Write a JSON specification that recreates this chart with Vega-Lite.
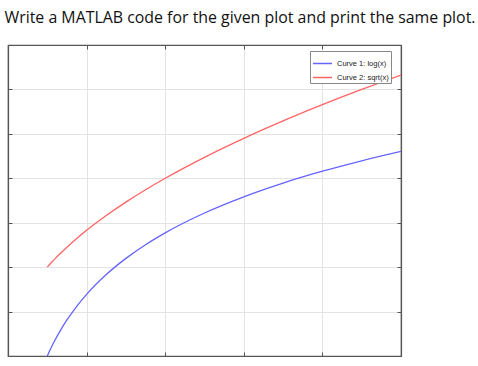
{
  "$schema": "https://vega.github.io/schema/vega-lite/v6.json",
  "autosize": "none",
  "width": 393,
  "height": 311,
  "padding": {"left": 8, "top": 45, "right": 77, "bottom": 10},
  "background": "white",
  "title": {
    "text": "Write a MATLAB code for the given plot and print the same plot.",
    "anchor": "start",
    "font": "Open Sans",
    "fontSize": 15.9,
    "fontWeight": "normal",
    "color": "#111111",
    "dx": -3,
    "offset": 19
  },
  "config": {
    "view": {"stroke": "#555555", "strokeWidth": 1.2},
    "axis": {
      "labels": false,
      "title": null,
      "domainColor": "#555555",
      "domainWidth": 1.2,
      "tickColor": "#555555",
      "tickSize": -4,
      "tickWidth": 1,
      "gridColor": "#e3e3e3",
      "gridWidth": 1
    }
  },
  "data": {
    "values": [
      {"x": 1, "y": 0, "curve": "Curve 1: log(x)"},
      {"x": 1.1, "y": 0.0953, "curve": "Curve 1: log(x)"},
      {"x": 1.2, "y": 0.1823, "curve": "Curve 1: log(x)"},
      {"x": 1.35, "y": 0.3001, "curve": "Curve 1: log(x)"},
      {"x": 1.5, "y": 0.4055, "curve": "Curve 1: log(x)"},
      {"x": 1.75, "y": 0.5596, "curve": "Curve 1: log(x)"},
      {"x": 2, "y": 0.6931, "curve": "Curve 1: log(x)"},
      {"x": 2.5, "y": 0.9163, "curve": "Curve 1: log(x)"},
      {"x": 3, "y": 1.0986, "curve": "Curve 1: log(x)"},
      {"x": 3.5, "y": 1.2528, "curve": "Curve 1: log(x)"},
      {"x": 4, "y": 1.3863, "curve": "Curve 1: log(x)"},
      {"x": 5, "y": 1.6094, "curve": "Curve 1: log(x)"},
      {"x": 6, "y": 1.7918, "curve": "Curve 1: log(x)"},
      {"x": 7, "y": 1.9459, "curve": "Curve 1: log(x)"},
      {"x": 8, "y": 2.0794, "curve": "Curve 1: log(x)"},
      {"x": 9, "y": 2.1972, "curve": "Curve 1: log(x)"},
      {"x": 10, "y": 2.3026, "curve": "Curve 1: log(x)"},
      {"x": 1, "y": 1, "curve": "Curve 2: sqrt(x)"},
      {"x": 1.1, "y": 1.0488, "curve": "Curve 2: sqrt(x)"},
      {"x": 1.2, "y": 1.0954, "curve": "Curve 2: sqrt(x)"},
      {"x": 1.35, "y": 1.1619, "curve": "Curve 2: sqrt(x)"},
      {"x": 1.5, "y": 1.2247, "curve": "Curve 2: sqrt(x)"},
      {"x": 1.75, "y": 1.3229, "curve": "Curve 2: sqrt(x)"},
      {"x": 2, "y": 1.4142, "curve": "Curve 2: sqrt(x)"},
      {"x": 2.5, "y": 1.5811, "curve": "Curve 2: sqrt(x)"},
      {"x": 3, "y": 1.7321, "curve": "Curve 2: sqrt(x)"},
      {"x": 3.5, "y": 1.8708, "curve": "Curve 2: sqrt(x)"},
      {"x": 4, "y": 2, "curve": "Curve 2: sqrt(x)"},
      {"x": 5, "y": 2.2361, "curve": "Curve 2: sqrt(x)"},
      {"x": 6, "y": 2.4495, "curve": "Curve 2: sqrt(x)"},
      {"x": 7, "y": 2.6458, "curve": "Curve 2: sqrt(x)"},
      {"x": 8, "y": 2.8284, "curve": "Curve 2: sqrt(x)"},
      {"x": 9, "y": 3, "curve": "Curve 2: sqrt(x)"},
      {"x": 10, "y": 3.1623, "curve": "Curve 2: sqrt(x)"}
    ]
  },
  "layer": [
    {
      "mark": {"type": "line", "strokeWidth": 1.3, "clip": true, "interpolate": "monotone"},
      "encoding": {
        "x": {"field": "x", "type": "quantitative", "scale": {"domain": [0, 10], "nice": false, "zero": false},
              "axis": {"orient": "bottom", "values": [0, 2, 4, 6, 8, 10], "grid": true}},
        "y": {"field": "y", "type": "quantitative", "scale": {"domain": [0, 3.5], "nice": false, "zero": false},
              "axis": {"orient": "left", "values": [0, 0.5, 1, 1.5, 2, 2.5, 3, 3.5], "grid": true}},
        "color": {
          "field": "curve", "type": "nominal",
          "scale": {"domain": ["Curve 1: log(x)", "Curve 2: sqrt(x)"], "range": ["#6464ff", "#ff6464"]},
          "legend": {
            "title": null,
            "orient": "none",
            "legendX": 302,
            "legendY": 6,
            "symbolType": "M-1,0H1",
            "symbolSize": 361,
            "symbolStrokeWidth": 1.5,
            "labelFont": "Liberation Sans",
            "labelFontSize": 7.5,
            "labelColor": "#222222",
            "labelOffset": 4,
            "rowPadding": -5,
            "padding": 2,
            "strokeColor": "#888888",
            "fillColor": "white",
            "cornerRadius": 0
          }
        },
        "detail": {"field": "curve"}
      }
    },
    {
      "mark": {"type": "line", "strokeOpacity": 0},
      "encoding": {
        "x": {"field": "x", "type": "quantitative", "scale": {"domain": [0, 10], "nice": false, "zero": false},
              "axis": {"orient": "top", "values": [0, 2, 4, 6, 8, 10], "grid": false}},
        "y": {"field": "y", "type": "quantitative", "scale": {"domain": [0, 3.5], "nice": false, "zero": false},
              "axis": {"orient": "right", "values": [0, 0.5, 1, 1.5, 2, 2.5, 3, 3.5], "grid": false}},
        "detail": {"field": "curve"}
      }
    }
  ],
  "resolve": {"axis": {"x": "independent", "y": "independent"}}
}
